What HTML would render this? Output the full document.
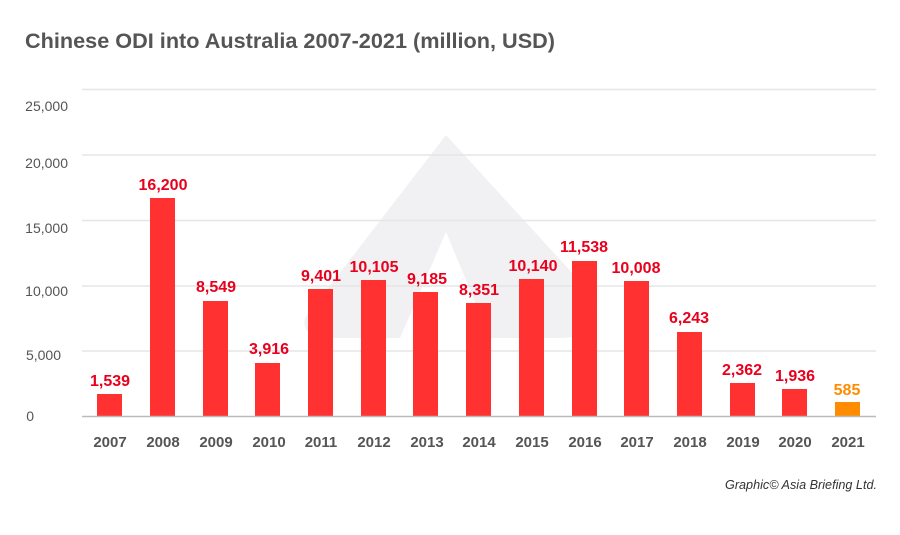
<!DOCTYPE html>
<html><head><meta charset="utf-8"><style>
html,body{margin:0;padding:0;background:#fff;}
svg{display:block;font-family:"Liberation Sans",sans-serif;}
</style></head><body>
<svg width="900" height="535" viewBox="0 0 900 535" xmlns="http://www.w3.org/2000/svg">
<rect width="900" height="535" fill="#fff"/>
<text x="25" y="48" font-size="21" font-weight="bold" fill="#555" textLength="530" lengthAdjust="spacingAndGlyphs">Chinese ODI into Australia 2007-2021 (million, USD)</text>
<path d="M305,318 L446,135 L597,300 Q600,338 560,338 L490,338 L446,232 L400,338 L335,338 Q300,338 305,318 Z" fill="#f1f1f3"/>
<g stroke="#e6e6e6" stroke-width="1.5">
<line x1="82" y1="89.5" x2="876" y2="89.5"/>
<line x1="82" y1="155" x2="876" y2="155"/>
<line x1="82" y1="220.5" x2="876" y2="220.5"/>
<line x1="82" y1="286" x2="876" y2="286"/>
<line x1="82" y1="351" x2="876" y2="351"/>
</g>
<g font-size="14" fill="#555" text-anchor="end">
<text x="68" y="111">25,000</text>
<text x="68" y="168">20,000</text>
<text x="68" y="233">15,000</text>
<text x="68" y="296">10,000</text>
<text x="61" y="360">5,000</text>
<text x="34" y="421">0</text>
</g>
<g fill="#ff2a2a" fill-opacity="0.97">
<rect x="97" y="394" width="25" height="22"/>
<rect x="150" y="198" width="25" height="218"/>
<rect x="203" y="301" width="25" height="115"/>
<rect x="255" y="363" width="25" height="53"/>
<rect x="308" y="289" width="25" height="127"/>
<rect x="361" y="280" width="25" height="136"/>
<rect x="413" y="292" width="25" height="124"/>
<rect x="466" y="303" width="25" height="113"/>
<rect x="519" y="279" width="25" height="137"/>
<rect x="572" y="261" width="25" height="155"/>
<rect x="624" y="281" width="25" height="135"/>
<rect x="677" y="332" width="25" height="84"/>
<rect x="730" y="383" width="25" height="33"/>
<rect x="782" y="389" width="25" height="27"/>
</g>
<rect x="835" y="402" width="25" height="14" fill="#ff8c00"/>
<line x1="82" y1="416.5" x2="876" y2="416.5" stroke="#bbb" stroke-width="1.5"/>
<g font-size="16" font-weight="bold" fill="#e8001c" text-anchor="middle">
<text x="110" y="386">1,539</text>
<text x="163" y="190">16,200</text>
<text x="216" y="292">8,549</text>
<text x="269" y="354">3,916</text>
<text x="321" y="281">9,401</text>
<text x="374" y="272">10,105</text>
<text x="427" y="284">9,185</text>
<text x="479" y="295">8,351</text>
<text x="533" y="271">10,140</text>
<text x="584" y="252">11,538</text>
<text x="636" y="273">10,008</text>
<text x="689" y="323">6,243</text>
<text x="742" y="375">2,362</text>
<text x="795" y="381">1,936</text>
<text x="847" y="395" fill="#ff8c00">585</text>
</g>
<g font-size="15" font-weight="bold" fill="#555" text-anchor="middle">
<text x="110" y="447">2007</text>
<text x="163" y="447">2008</text>
<text x="216" y="447">2009</text>
<text x="269" y="447">2010</text>
<text x="321" y="447">2011</text>
<text x="374" y="447">2012</text>
<text x="427" y="447">2013</text>
<text x="479" y="447">2014</text>
<text x="532" y="447">2015</text>
<text x="585" y="447">2016</text>
<text x="637" y="447">2017</text>
<text x="690" y="447">2018</text>
<text x="743" y="447">2019</text>
<text x="795" y="447">2020</text>
<text x="848" y="447">2021</text>
</g>
<text x="877" y="489" font-size="13" font-style="italic" fill="#333" text-anchor="end" textLength="152" lengthAdjust="spacingAndGlyphs">Graphic© Asia Briefing Ltd.</text>
</svg>
</body></html>
